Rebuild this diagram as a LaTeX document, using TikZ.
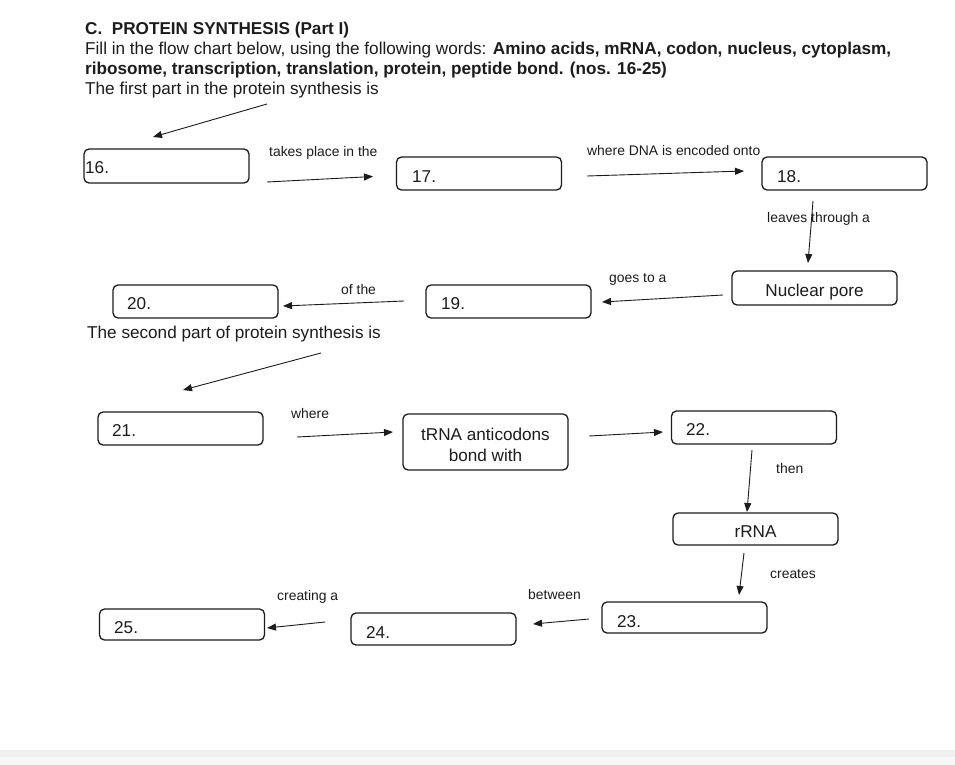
\documentclass[tikz,border=0pt]{standalone}
\usepackage{fontspec}
\setmainfont{Liberation Sans}
\usetikzlibrary{arrows.meta}
\definecolor{ink}{HTML}{1C1C1C}
\begin{document}
\begin{tikzpicture}[x=1pt,y=-1pt,
  box/.style={draw=ink, line width=1.3pt, rounded corners=5pt, minimum width=165pt, minimum height=33pt, inner sep=0pt},
  big/.style={text=ink, inner sep=0pt, font=\fontsize{17.15}{21}\selectfont},
  small/.style={text=ink, inner sep=0pt, font=\fontsize{13.9}{16}\selectfont},
  arr/.style={draw=ink, line width=0.9pt, -{Triangle[length=9pt,width=7pt]}}]
\useasboundingbox (0,0) rectangle (955,765);
\fill[white] (0,0) rectangle (955,765);
\fill[black!6] (0,750) rectangle (955,757);
\fill[black!3] (0,757) rectangle (955,765);

% header
\node[big, anchor=base west] (h1) at (85,35) {\bfseries C.\ \ PROTEIN SYNTHESIS (Part I)};
\node[big, anchor=base west] (h2) at (85,55) {Fill in the flow chart below, using the following words: \textbf{Amino acids, mRNA, codon, nucleus, cytoplasm,}};
\node[big, anchor=base west] (h3) at (85,75) {\bfseries ribosome, transcription, translation, protein, peptide bond. (nos. 16-25)};
\node[big, anchor=base west] (h4) at (85,95) {The first part in the protein synthesis is};
\node[big, anchor=base west] (h5) at (87,338) {The second part of protein synthesis is};

% boxes
\node[box, minimum height=34pt] (b16) at (166.5,166) {};
\node[box] (b17) at (479,173.5) {};
\node[box] (b18) at (844.5,173.5) {};
\node[box, minimum height=34pt] (bnp) at (814.5,288) {};
\node[box] (b19) at (508.5,301.5) {};
\node[box] (b20) at (195.5,301.5) {};
\node[box] (b21) at (180.5,428.5) {};
\node[box, minimum height=56pt] (btr) at (485.5,442) {};
\node[box] (b22) at (754,427.5) {};
\node[box, minimum height=32pt] (brr) at (755.5,529) {};
\node[box, minimum height=31pt] (b23) at (684.5,617.5) {};
\node[box, minimum height=32pt] (b24) at (433.5,629) {};
\node[box, minimum height=31pt] (b25) at (182,624.5) {};

% box texts
\node[big, anchor=base west] (t16) at (85,173) {16.};
\node[big, anchor=base west] (t17) at (412,182) {17.};
\node[big, anchor=base west] (t18) at (777,182) {18.};
\node[big, anchor=base] (tnp) at (814.5,296) {Nuclear pore};
\node[big, anchor=base west] (t19) at (441,309) {19.};
\node[big, anchor=base west] (t20) at (127,309) {20.};
\node[big, anchor=base west] (t21) at (112,436) {21.};
\node[big, anchor=base] (ttr1) at (485.5,440) {tRNA anticodons};
\node[big, anchor=base] (ttr2) at (485.5,461) {bond with};
\node[big, anchor=base west] (t22) at (686,435) {22.};
\node[big, anchor=base] (trr) at (755.5,537) {rRNA};
\node[big, anchor=base west] (t23) at (617,627) {23.};
\node[big, anchor=base west] (t24) at (366,638) {24.};
\node[big, anchor=base west] (t25) at (114,633) {25.};

% connector labels
\node[small, anchor=base west] (l1) at (269,157) {takes place in the};
\node[small, anchor=base west] (l2) at (587,155) {where DNA is encoded onto};
\node[small, anchor=base west] (l3) at (767,222) {leaves through a};
\node[small, anchor=base west] (l4) at (609,282) {goes to a};
\node[small, anchor=base west] (l5) at (341,294) {of the};
\node[small, anchor=base west] (l6) at (291,418) {where};
\node[small, anchor=base west] (l7) at (776,473) {then};
\node[small, anchor=base west] (l8) at (770,578) {creates};
\node[small, anchor=base west] (l9) at (528,599) {between};
\node[small, anchor=base west] (l10) at (277,600) {creating a};

% connector endpoints
\coordinate (a1s) at (267,104); \coordinate (a1e) at (153,137);
\coordinate (a2s) at (267,182); \coordinate (a2e) at (373,176.5);
\coordinate (a3s) at (587,176); \coordinate (a3e) at (744,171);
\coordinate (a4s) at (813,201); \coordinate (a4e) at (808,263);
\coordinate (a5s) at (723,295); \coordinate (a5e) at (602,302);
\coordinate (a6s) at (404,301); \coordinate (a6e) at (283,306);
\coordinate (a7s) at (321,353); \coordinate (a7e) at (183,390);
\coordinate (a8s) at (297,437); \coordinate (a8e) at (393,432);
\coordinate (a9s) at (589,436); \coordinate (a9e) at (663,432);
\coordinate (a10s) at (752,450); \coordinate (a10e) at (747,512);
\coordinate (a11s) at (744,553); \coordinate (a11e) at (739,595);
\coordinate (a12s) at (589,619); \coordinate (a12e) at (533,624);
\coordinate (a13s) at (325,622); \coordinate (a13e) at (267,628);

\draw[arr] (a1s) -- (a1e);
\draw[arr] (a2s) -- (a2e);
\draw[arr] (a3s) -- (a3e);
\draw[arr] (a4s) -- (a4e);
\draw[arr] (a5s) -- (a5e);
\draw[arr] (a6s) -- (a6e);
\draw[arr] (a7s) -- (a7e);
\draw[arr] (a8s) -- (a8e);
\draw[arr] (a9s) -- (a9e);
\draw[arr] (a10s) -- (a10e);
\draw[arr] (a11s) -- (a11e);
\draw[arr] (a12s) -- (a12e);
\draw[arr] (a13s) -- (a13e);
\end{tikzpicture}
\end{document}
